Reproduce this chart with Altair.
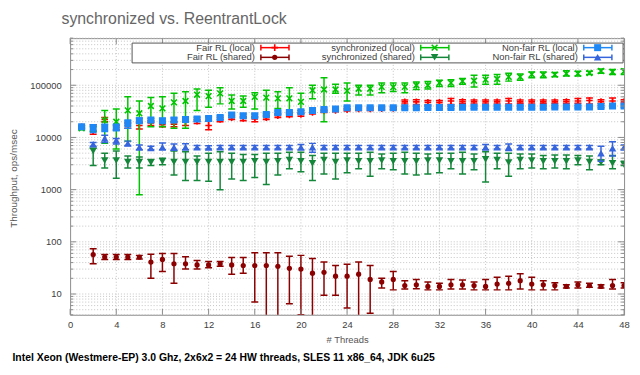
import altair as alt
import pandas as pd

# ---------------- data ----------------
threads_local = list(range(1, 49))
threads_shared = list(range(2, 49))

fair_local_mean = [16000, 13500, 22000, 15500, 17000, 17000, 19000, 17500, 18000, 19500,
                   20500, 17000, 22000, 24000, 23000, 22500, 24000, 26000, 27000, 27500,
                   30000, 32000, 33000, 34000, 35000, 35000, 35500, 36000, 48000, 48000,
                   47000, 47000, 50000, 49000, 48000, 48000, 48000, 50000, 48000, 48000,
                   48000, 48000, 49000, 50000, 51000, 49000, 50000, 49000]
fair_local_lo = [15000, 11500, 20000, 14000, 15000, 14500, 17000, 16000, 16000, 17000,
                 18500, 14000, 20000, 22000, 21000, 20000, 22000, 24000, 25000, 25500,
                 28000, 30000, 31000, 32000, 33000, 33000, 33500, 34000, 44000, 43000,
                 42000, 43000, 43000, 45000, 44000, 44000, 44000, 44000, 44500, 44000,
                 44500, 44500, 45000, 45000, 44000, 45000, 44000, 45500]
fair_local_hi = [17000, 17500, 24000, 17000, 19000, 19500, 21000, 19500, 20000, 21500,
                 22000, 20500, 24000, 26500, 25000, 25000, 26000, 28000, 29000, 29500,
                 32000, 34000, 35000, 36000, 37000, 37000, 37500, 38000, 52000, 53000,
                 51000, 51000, 56000, 53000, 52000, 52000, 52000, 56000, 52000, 52000,
                 52000, 52000, 53000, 56000, 57000, 53000, 57000, 53000]

fair_shared_mean = [57, 51, 51, 51, 51, 41, 46, 38, 38, 36,
                    36, 38, 36, 35, 35, 35, 34, 31, 30, 25,
                    26, 22, 22, 24, 19, 17, 19, 14.5, 15, 14,
                    14, 15, 15, 14.5, 14, 15.5, 16, 18, 15.5, 15,
                    14.5, 14, 15, 14.5, 14, 14.5, 14.5]
fair_shared_lo = [38, 46, 46, 46, 47, 20, 27, 16, 30, 30,
                  32, 34, 24, 25, 7, 3, 3, 6.5, 4, 3,
                  9.5, 9.5, 5.4, 3, 4.3, 13, 12, 12.5, 12.6, 12,
                  12, 12.5, 12.5, 12, 12, 12, 12, 12.5, 12, 12,
                  12, 13, 13, 13.5, 13, 12.5, 13]
fair_shared_hi = [74, 57, 57, 57, 55, 58, 60, 60, 52, 44,
                  42, 42, 50, 50, 62, 62, 62, 53, 55, 48,
                  41, 35, 37, 41, 35, 20, 27, 18, 19, 17,
                  16, 19, 18.5, 17, 19, 21, 22, 24.5, 21, 18,
                  16.5, 15, 17, 16, 15, 19, 16.5]

sync_local_mean = [15000, 14500, 21500, 20000, 33000, 29000, 40000, 36000, 47000, 50000,
                   66000, 62000, 70000, 50000, 50000, 60000, 58000, 56000, 56000, 48000,
                   80000, 83000, 83000, 78000, 86000, 86000, 93000, 92000, 93000, 100000,
                   100000, 111000, 111000, 120000, 122000, 128000, 132000, 145000, 145000, 162000,
                   160000, 160000, 167000, 167000, 172000, 188000, 180000, 185000]
sync_local_lo = [14000, 13000, 7700, 6000, 8500, 800, 16000, 16000, 15000, 15000,
                 33000, 38000, 44000, 35000, 38000, 35000, 28000, 36000, 30000, 33000,
                 55000, 20000, 70000, 50000, 65000, 65000, 72000, 76000, 72000, 83000,
                 85000, 95000, 95000, 105000, 93000, 105000, 105000, 120000, 125000, 140000,
                 140000, 145000, 150000, 150000, 160000, 170000, 160000, 160000]
sync_local_hi = [16000, 16000, 33000, 35000, 60000, 50000, 58000, 60000, 70000, 75000,
                 85000, 80000, 90000, 65000, 62000, 72000, 80000, 75000, 90000, 70000,
                 100000, 140000, 105000, 110000, 100000, 100000, 110000, 110000, 110000, 115000,
                 118000, 125000, 128000, 135000, 155000, 155000, 160000, 170000, 165000, 180000,
                 180000, 175000, 190000, 185000, 185000, 205000, 200000, 205000]

sync_shared_mean = [5500, 3600, 3600, 3400, 3400, 3300, 3500, 3400, 3400, 3400,
                    3400, 3400, 3400, 3400, 3500, 3400, 3500, 3700, 3500, 3200,
                    3700, 3400, 3600, 3500, 3500, 3600, 3500, 3500, 3500, 3600,
                    3600, 3500, 3500, 3500, 3800, 3700, 3300, 3700, 3600, 3500,
                    3500, 3500, 3600, 3400, 3300, 3200, 3000]
sync_shared_lo = [2900, 2600, 1650, 2600, 2600, 2900, 3000, 1900, 1500, 1500,
                  1450, 1000, 1600, 1500, 1700, 1250, 1900, 2500, 2200, 1500,
                  2000, 1600, 2100, 2500, 1800, 2500, 2400, 2000, 1900, 2000,
                  2100, 2500, 2000, 2400, 1400, 2500, 1800, 2500, 2600, 2500,
                  2600, 2500, 3000, 2400, 3000, 2500, 2900]
sync_shared_hi = [6200, 5000, 5500, 4400, 4200, 3800, 4000, 5500, 5300, 4400,
                  5000, 5300, 5000, 4700, 4700, 5000, 5000, 5200, 5200, 4500,
                  5000, 5000, 5000, 5000, 5200, 4800, 5000, 5200, 5000, 4800,
                  5000, 5000, 5200, 4800, 5300, 5000, 5000, 4800, 4800, 4500,
                  4600, 4600, 4500, 4400, 3700, 4500, 3500]

nonfair_local_mean = [16000, 15000, 15500, 15500, 18500, 21000, 21500, 21000, 21500, 22000,
                      22500, 23000, 24000, 27000, 26000, 26000, 27500, 30000, 30000, 31000,
                      33000, 34500, 35000, 37000, 37000, 37000, 37000, 37000, 37000, 37000,
                      37500, 37500, 37500, 38000, 38000, 38000, 38000, 38000, 38000, 38000,
                      38000, 38500, 38500, 38500, 38500, 39000, 40000, 40000]
nonfair_local_lo = [15000, 12500, 13000, 13500, 15000, 19000, 19500, 19000, 19500, 20000,
                    20500, 21000, 22000, 24500, 24000, 24000, 25500, 28000, 28000, 29000,
                    31000, 32500, 33000, 35000, 35000, 35000, 35000, 35000, 35000, 35000,
                    35500, 35500, 35500, 36000, 36000, 36000, 36000, 36000, 36000, 36000,
                    36000, 36500, 36500, 36500, 36500, 37000, 37500, 37500]
nonfair_local_hi = [17000, 17500, 18000, 18000, 21500, 23500, 23000, 23000, 23500, 24000,
                    24500, 25000, 26000, 29500, 28000, 28000, 29500, 32000, 32000, 33000,
                    35000, 36500, 37000, 39000, 39000, 39000, 39000, 39000, 39000, 39000,
                    39500, 39500, 39500, 40000, 40000, 40000, 40000, 40000, 40000, 40000,
                    40000, 40500, 40500, 40500, 40500, 41000, 42500, 42500]

nonfair_shared_mean = [7400, 9600, 8800, 7700, 6500, 6300, 6500, 6500, 6500, 6500,
                       6400, 6500, 6500, 6500, 6500, 6500, 6500, 6500, 6500, 6500,
                       6500, 6500, 6500, 6500, 6500, 6500, 6500, 6500, 6500, 6500,
                       6500, 6500, 6500, 6500, 6500, 6500, 6500, 6500, 6500, 6500,
                       6500, 6500, 6500, 6500, 5000, 6200, 6500]
nonfair_shared_lo = [6800, 8000, 7500, 7000, 5800, 5800, 5800, 5700, 5800, 6000,
                     6000, 6000, 6000, 6000, 6000, 6000, 6000, 6000, 5800, 5200,
                     6000, 6000, 6000, 6000, 6000, 6000, 6000, 6000, 6000, 6000,
                     6000, 6000, 6000, 6000, 5800, 6000, 5600, 6000, 6000, 6000,
                     6000, 6000, 6000, 6000, 3500, 4400, 5800]
nonfair_shared_hi = [8000, 11000, 9500, 8500, 7200, 6800, 7800, 7500, 7600, 7000,
                     6900, 7000, 7000, 7000, 7000, 7000, 7000, 7000, 7300, 7700,
                     7000, 7000, 7000, 7000, 7000, 7000, 7000, 7000, 7000, 7000,
                     7000, 7000, 7000, 7000, 7300, 7000, 7500, 7000, 7000, 7000,
                     7000, 7000, 7000, 7000, 6800, 8300, 7200]

series_names = ["Fair RL (local)", "Fair RL (shared)", "synchronized (local)",
                "synchronized (shared)", "Non-fair RL (local)", "Non-fair RL (shared)"]
x_ticks = list(range(0, 49, 4))
y_ticks = [10, 100, 1000, 10000, 100000]

title_text = "synchronized vs. ReentrantLock"
footer_text = "Intel Xeon (Westmere-EP) 3.0 Ghz, 2x6x2 = 24 HW threads, SLES 11 x86_64, JDK 6u25"

# ---------------- styling ----------------
W, H = 559.3, 279.3
FONT = "Liberation Sans"
BORDER = "#8c8c8c"
GRID = "#c4c4c4"

styles = {
    "Fair RL (local)": dict(color="#ff0000", shape="M-1,0H1M0,-1V1", filled=False, size=44, sw=1.6),
    "Fair RL (shared)": dict(color="#8b0000", shape="circle", filled=True, size=28, sw=1),
    "synchronized (local)": dict(color="#00c400", shape="M-1,-1L1,1M-1,1L1,-1", filled=False, size=34, sw=1.6),
    "synchronized (shared)": dict(color="#14873a", shape="triangle-down", filled=True, size=58, sw=1),
    "Non-fair RL (local)": dict(color="#1f88f5", shape="square", filled=True, size=50, sw=1),
    "Non-fair RL (shared)": dict(color="#3564dc", shape="triangle-up", filled=True, size=58, sw=1),
}

series_data = {
    "Fair RL (local)": (threads_local, fair_local_mean, fair_local_lo, fair_local_hi),
    "Fair RL (shared)": (threads_shared, fair_shared_mean, fair_shared_lo, fair_shared_hi),
    "synchronized (local)": (threads_local, sync_local_mean, sync_local_lo, sync_local_hi),
    "synchronized (shared)": (threads_shared, sync_shared_mean, sync_shared_lo, sync_shared_hi),
    "Non-fair RL (local)": (threads_local, nonfair_local_mean, nonfair_local_lo, nonfair_local_hi),
    "Non-fair RL (shared)": (threads_shared, nonfair_shared_mean, nonfair_shared_lo, nonfair_shared_hi),
}

xs = alt.Scale(domain=[0, 48], nice=False, zero=False)
ys = alt.Scale(type="log", domain=[4, 800000], nice=False)

X_AXIS = alt.Axis(values=x_ticks, labelFlush=False, labelPadding=5, title="# Threads",
                  titleX=W / 2, titleY=25, titleBaseline="middle", titleAlign="center")
Y_AXIS = alt.Axis(values=y_ticks, format="d", labelPadding=9, title="Throughput, ops/msec",
                  titleX=-57, titleY=H / 2 + 1.7, titleAngle=270, titleBaseline="middle",
                  titleAlign="center", titleFontSize=10)


def xq(field):
    return alt.X(field, scale=xs, axis=X_AXIS)


def yq(field):
    return alt.Y(field, scale=ys, axis=Y_AXIS)


layers = []

# grid
minor_vals = [k * 10 ** n for n in range(0, 6) for k in range(1, 10) if 4 <= k * 10 ** n <= 800000]
grid_y = pd.DataFrame({"v": minor_vals})
grid_x = pd.DataFrame({"t": x_ticks[1:-1]})
layers.append(alt.Chart(grid_y).mark_rule(color=GRID, strokeDash=[1, 2], strokeWidth=1).encode(
    y=yq("v:Q")))
layers.append(alt.Chart(grid_x).mark_rule(color=GRID, strokeDash=[1, 2], strokeWidth=1).encode(
    x=xq("t:Q")))

# data series
for name in series_names:
    t, m, lo, hi = series_data[name]
    st = styles[name]
    df = pd.DataFrame({"t": t, "mean": m, "lo": lo, "hi": hi})
    base = alt.Chart(df)
    layers.append(base.mark_rule(color=st["color"], strokeWidth=1.5, clip=True).encode(
        x=xq("t:Q"), y=yq("lo:Q"), y2="hi:Q"))
    for f in ["lo", "hi"]:
        layers.append(base.mark_tick(color=st["color"], orient="horizontal", size=7, thickness=1.5,
                                     clip=True, opacity=1).encode(
            x=xq("t:Q"), y=yq(f + ":Q")))
    layers.append(base.mark_point(shape=st["shape"], filled=st["filled"], size=st["size"],
                                  color=st["color"], opacity=1, strokeWidth=st["sw"], clip=True).encode(
        x=xq("t:Q"), y=yq("mean:Q")))

# inward ticks (left/right/bottom/top)
major_df = pd.DataFrame({"v": y_ticks})
minor_df = pd.DataFrame({"v": [v for v in minor_vals if v not in y_ticks]})
xt_df = pd.DataFrame({"t": x_ticks})
for df_, ln in [(major_df, 6), (minor_df, 3)]:
    layers.append(alt.Chart(df_).mark_rule(color=BORDER, strokeWidth=1).encode(
        y=yq("v:Q"), x=alt.value(0), x2=alt.value(ln)))
    layers.append(alt.Chart(df_).mark_rule(color=BORDER, strokeWidth=1).encode(
        y=yq("v:Q"), x=alt.value(W - ln), x2=alt.value(W)))
layers.append(alt.Chart(xt_df).mark_rule(color=BORDER, strokeWidth=1).encode(
    x=xq("t:Q"), y=alt.value(H - 6), y2=alt.value(H)))
layers.append(alt.Chart(xt_df).mark_rule(color=BORDER, strokeWidth=1).encode(
    x=xq("t:Q"), y=alt.value(0), y2=alt.value(6)))

# legend (gnuplot style: text right aligned, then sample)
one = pd.DataFrame({"a": [0]})
layers.append(alt.Chart(one).mark_rect(fill="white", stroke="#555555", strokeWidth=1).encode(
    x=alt.value(62.6), x2=alt.value(558.3), y=alt.value(5), y2=alt.value(25)))
col_right = [186.6, 348.0, 512.6]
row_y = [9.6, 19.4]
for i, name in enumerate(series_names):
    st = styles[name]
    tr = col_right[i // 2]
    ry = row_y[i % 2]
    layers.append(alt.Chart(one).mark_text(align="right", baseline="middle", font=FONT,
                                           fontSize=9.5, color="#404040").encode(
        x=alt.value(tr), y=alt.value(ry), text=alt.value(name)))
    layers.append(alt.Chart(one).mark_rule(color=st["color"], strokeWidth=1.5).encode(
        x=alt.value(tr + 6), x2=alt.value(tr + 34.4), y=alt.value(ry)))
    for xx in [tr + 6, tr + 34.4]:
        layers.append(alt.Chart(one).mark_rule(color=st["color"], strokeWidth=1.5).encode(
            x=alt.value(xx), y=alt.value(ry - 3), y2=alt.value(ry + 3)))
    layers.append(alt.Chart(one).mark_point(shape=st["shape"], filled=st["filled"], size=st["size"],
                                            color=st["color"], opacity=1, strokeWidth=st["sw"]).encode(
        x=alt.value(tr + 20), y=alt.value(ry)))

# title and footer
layers.append(alt.Chart(one).mark_text(align="left", baseline="alphabetic", font=FONT,
                                       fontSize=16, color="#666666").encode(
    x=alt.value(-8.7), y=alt.value(-14.5), text=alt.value(title_text)))
layers.append(alt.Chart(one).mark_text(align="left", baseline="alphabetic", font=FONT,
                                       fontSize=10.5, fontWeight="bold", color="#000000").encode(
    x=alt.value(12.5 - 70.7), y=alt.value(326), text=alt.value(footer_text)))

chart = alt.layer(*layers).properties(
    width=W, height=H,
    autosize=alt.AutoSizeParams(type="none"),
    padding={"left": 62.7, "top": 28.7, "right": 8, "bottom": 50.5},
).configure_view(
    stroke=BORDER, strokeWidth=1
).configure_axis(
    grid=False, ticks=False, tickSize=0, domain=False,
    labelFont=FONT, labelFontSize=9.5, labelColor="#404040",
    titleFont=FONT, titleFontSize=9.5, titleFontWeight="normal", titleColor="#555555",
)

chart.save("out.html", embed_options={"renderer": "svg", "actions": False})
